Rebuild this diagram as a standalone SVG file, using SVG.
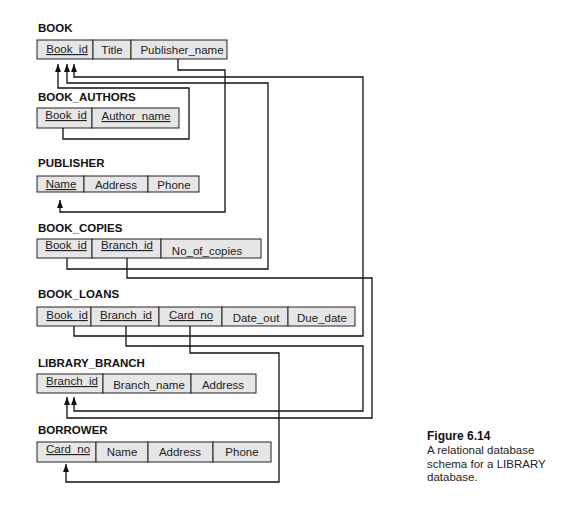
<svg xmlns="http://www.w3.org/2000/svg" width="566" height="511" viewBox="0 0 566 511">
<style>
.bg{fill:#ffffff}
.cell{fill:#e6e6e6;stroke:#222;stroke-width:1}
.t{font-family:"Liberation Sans",Arial,sans-serif;font-size:11.5px;fill:#222;text-anchor:middle}
.k{text-decoration:underline}
.title{font-family:"Liberation Sans",Arial,sans-serif;font-size:11.5px;font-weight:bold;fill:#111}
.cap{font-family:"Liberation Sans",Arial,sans-serif;font-size:11.5px;fill:#222}
.capb{font-family:"Liberation Sans",Arial,sans-serif;font-size:12px;font-weight:bold;fill:#111}
.c{fill:none;stroke:#111;stroke-width:1.3}
</style>
<defs>
<marker id="ah" markerWidth="8" markerHeight="6" refX="8" refY="3" orient="auto" markerUnits="userSpaceOnUse">
<path d="M0,0 L8,3 L0,6 z" fill="#111"/>
</marker>
</defs>
<rect class="bg" x="0" y="0" width="566" height="511"/>

<g id="book">
<text class="title" x="38" y="32">BOOK</text>
<rect class="cell" x="37" y="40" width="56" height="19"/>
<rect class="cell" x="93" y="40" width="38" height="19"/>
<rect class="cell" x="131" y="40" width="96" height="19"/>
<text class="t k" x="67" y="53">Book_id</text>
<text class="t" x="112" y="54">Title</text>
<text class="t" x="182" y="54">Publisher_name</text>
</g>

<g id="book_authors">
<text class="title" x="38" y="101">BOOK_AUTHORS</text>
<rect class="cell" x="37" y="108" width="55" height="20"/>
<rect class="cell" x="92" y="108" width="87" height="20"/>
<text class="t k" x="66" y="119">Book_id</text>
<text class="t k" x="136" y="120">Author_name</text>
</g>

<g id="publisher">
<text class="title" x="38" y="167">PUBLISHER</text>
<rect class="cell" x="37" y="176" width="47" height="16"/>
<rect class="cell" x="84" y="176" width="64" height="16"/>
<rect class="cell" x="148" y="176" width="51" height="16"/>
<text class="t k" x="61" y="188">Name</text>
<text class="t" x="116" y="189">Address</text>
<text class="t" x="174" y="189">Phone</text>
</g>

<g id="book_copies">
<text class="title" x="38" y="232">BOOK_COPIES</text>
<rect class="cell" x="37" y="239" width="55" height="19"/>
<rect class="cell" x="92" y="239" width="69" height="19"/>
<rect class="cell" x="161" y="239" width="100" height="19"/>
<text class="t k" x="66" y="249">Book_id</text>
<text class="t k" x="127" y="249">Branch_id</text>
<text class="t" x="207" y="255">No_of_copies</text>
</g>

<g id="book_loans">
<text class="title" x="38" y="298">BOOK_LOANS</text>
<rect class="cell" x="37" y="307" width="54" height="19"/>
<rect class="cell" x="91" y="307" width="68" height="19"/>
<rect class="cell" x="159" y="307" width="63" height="19"/>
<rect class="cell" x="222" y="307" width="66" height="19"/>
<rect class="cell" x="288" y="307" width="67" height="19"/>
<text class="t k" x="67" y="319">Book_id</text>
<text class="t k" x="126" y="319">Branch_id</text>
<text class="t k" x="191" y="319">Card_no</text>
<text class="t" x="256" y="322">Date_out</text>
<text class="t" x="322" y="322">Due_date</text>
</g>

<g id="library_branch">
<text class="title" x="38" y="367">LIBRARY_BRANCH</text>
<rect class="cell" x="37" y="374" width="66" height="19"/>
<rect class="cell" x="103" y="374" width="88" height="19"/>
<rect class="cell" x="191" y="374" width="65" height="19"/>
<text class="t k" x="72" y="385">Branch_id</text>
<text class="t" x="149" y="389">Branch_name</text>
<text class="t" x="223" y="389">Address</text>
</g>

<g id="borrower">
<text class="title" x="38" y="434">BORROWER</text>
<rect class="cell" x="37" y="442" width="59" height="20"/>
<rect class="cell" x="96" y="442" width="52" height="20"/>
<rect class="cell" x="148" y="442" width="65" height="20"/>
<rect class="cell" x="213" y="442" width="58" height="20"/>
<text class="t k" x="68" y="453">Card_no</text>
<text class="t" x="122" y="456">Name</text>
<text class="t" x="180" y="456">Address</text>
<text class="t" x="242" y="456">Phone</text>
</g>

<g id="connectors">
<path class="c" marker-end="url(#ah)" d="M63,128 V139 H189 V88 H58 V64"/>
<path class="c" marker-end="url(#ah)" d="M67,258 V269 H268 V83 H67 V64"/>
<path class="c" marker-end="url(#ah)" d="M74,326 V336 H363 V77 H74 V64"/>
<path class="c" marker-end="url(#ah)" d="M178,59 V70 H225 V212 H60 V200"/>
<path class="c" marker-end="url(#ah)" d="M127,258 V278 H372 V418 H67 V397"/>
<path class="c" marker-end="url(#ah)" d="M126,326 V346 H363 V411 H74 V397"/>
<path class="c" marker-end="url(#ah)" d="M190,326 V353 H279 V482 H66 V464"/>
</g>

<g id="caption">
<text class="capb" x="427" y="440">Figure 6.14</text>
<text class="cap" x="427" y="454">A relational database</text>
<text class="cap" x="427" y="468">schema for a LIBRARY</text>
<text class="cap" x="427" y="481">database.</text>
</g>
</svg>
